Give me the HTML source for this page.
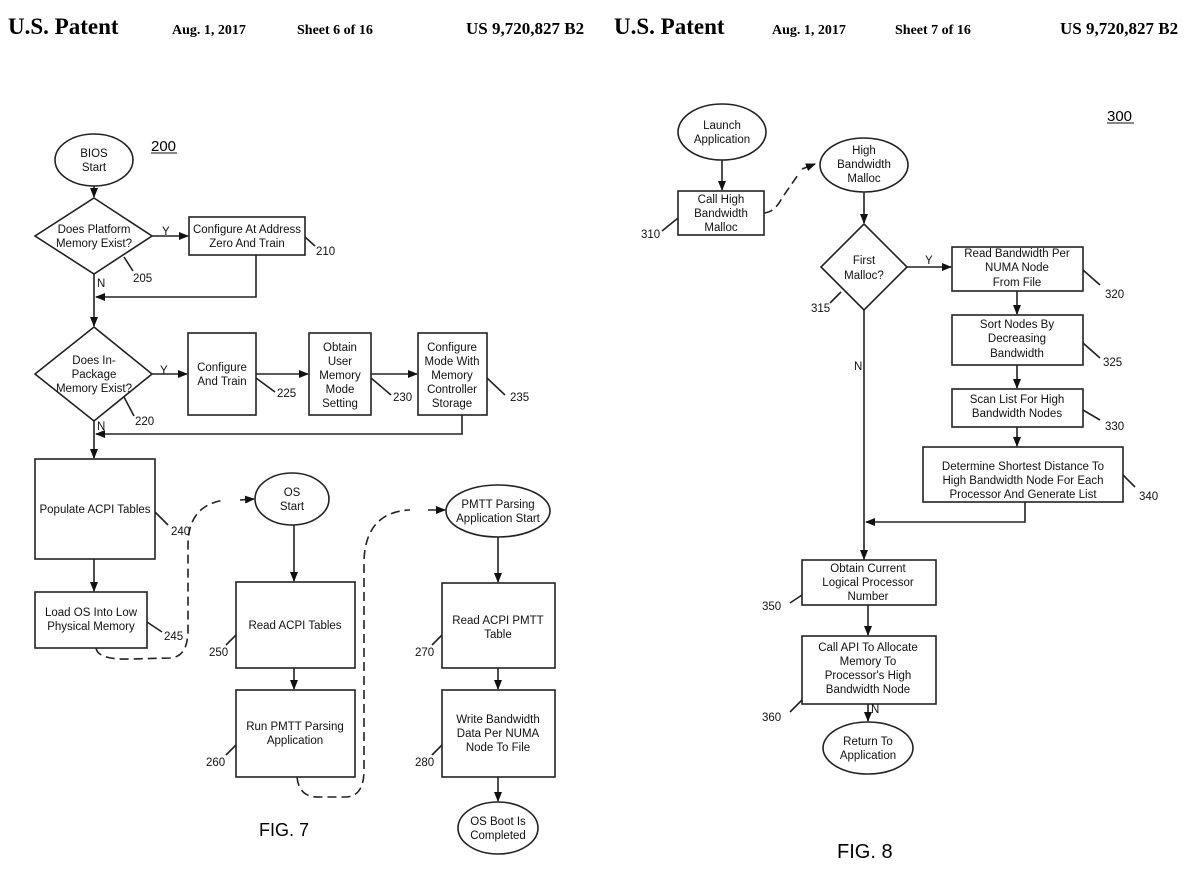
<!DOCTYPE html>
<html><head><meta charset="utf-8"><style>
html,body{margin:0;padding:0;background:#fff;}
svg{display:block;}
.t{font-family:"Liberation Sans",Arial,sans-serif;font-size:11.5px;fill:#111;text-anchor:middle;}
.l{font-family:"Liberation Sans",Arial,sans-serif;font-size:11.5px;fill:#111;}
.h{font-family:"Liberation Serif",serif;font-weight:bold;fill:#000;}
</style></head><body>
<svg width="1200" height="878" viewBox="0 0 1200 878" xmlns="http://www.w3.org/2000/svg">
<defs><marker id="a" markerWidth="10" markerHeight="8" refX="9" refY="4" orient="auto" markerUnits="userSpaceOnUse"><path d="M0,0 L10,4 L0,8 z" fill="#111"/></marker></defs>
<g class="h">
<text x="8" y="34" font-size="23">U.S. Patent</text>
<text x="172" y="34" font-size="14">Aug. 1, 2017</text>
<text x="297" y="34" font-size="14">Sheet 6 of 16</text>
<text x="466" y="34" font-size="17">US 9,720,827 B2</text>
<text x="614" y="34" font-size="23">U.S. Patent</text>
<text x="772" y="34" font-size="14">Aug. 1, 2017</text>
<text x="895" y="34" font-size="14">Sheet 7 of 16</text>
<text x="1060" y="34" font-size="17">US 9,720,827 B2</text>
</g>
<g stroke="#222" stroke-width="1.6" fill="none">
<!-- FIG 7 -->
<ellipse cx="94" cy="160" rx="39" ry="26"/>
<line x1="94" y1="186" x2="94" y2="197" marker-end="url(#a)"/>
<polygon points="94,198 152,236 94,274 35,236"/>
<line x1="152" y1="236" x2="188" y2="236" marker-end="url(#a)"/>
<rect x="189" y="217" width="116" height="38"/>
<polyline points="256,255 256,297 96,297" marker-end="url(#a)"/>
<line x1="94" y1="274" x2="94" y2="326" marker-end="url(#a)"/>
<polygon points="94,327 152,374 94,421 35,374"/>
<line x1="152" y1="374" x2="187" y2="374" marker-end="url(#a)"/>
<rect x="188" y="333" width="68" height="82"/>
<line x1="256" y1="374" x2="308" y2="374" marker-end="url(#a)"/>
<rect x="309" y="333" width="62" height="82"/>
<line x1="371" y1="374" x2="417" y2="374" marker-end="url(#a)"/>
<rect x="418" y="333" width="69" height="82"/>
<polyline points="462,415 462,434 96,434" marker-end="url(#a)"/>
<line x1="94" y1="421" x2="94" y2="458" marker-end="url(#a)"/>
<rect x="35" y="459" width="120" height="100"/>
<line x1="94" y1="559" x2="94" y2="591" marker-end="url(#a)"/>
<rect x="35" y="592" width="112" height="56"/>
<path d="M96,648 Q98,660 130,659 L170,658 Q188,657 188,630 L188,545 Q188,505 225,500" stroke-dasharray="9,5"/>
<line x1="240" y1="500" x2="254" y2="499" marker-end="url(#a)"/>
<ellipse cx="292" cy="499" rx="37" ry="26"/>
<line x1="294" y1="525" x2="294" y2="581" marker-end="url(#a)"/>
<rect x="236" y="582" width="119" height="86"/>
<line x1="294" y1="668" x2="294" y2="689" marker-end="url(#a)"/>
<rect x="236" y="690" width="119" height="87"/>
<path d="M297,777 Q299,798 320,797 L345,797 Q364,797 364,770 L364,560 Q366,512 410,510" stroke-dasharray="9,5"/>
<line x1="428" y1="510" x2="445" y2="510" marker-end="url(#a)"/>
<ellipse cx="498" cy="511" rx="52" ry="26"/>
<line x1="498" y1="537" x2="498" y2="582" marker-end="url(#a)"/>
<rect x="442" y="583" width="113" height="85"/>
<line x1="498" y1="668" x2="498" y2="689" marker-end="url(#a)"/>
<rect x="442" y="690" width="113" height="87"/>
<line x1="498" y1="777" x2="498" y2="801" marker-end="url(#a)"/>
<ellipse cx="498" cy="828" rx="40" ry="26"/>
<line x1="305" y1="237" x2="315" y2="246"/>
<line x1="124" y1="257" x2="133" y2="271"/>
<line x1="256" y1="378" x2="275" y2="392"/>
<line x1="371" y1="378" x2="391" y2="395"/>
<line x1="487" y1="378" x2="505" y2="395"/>
<line x1="124" y1="397" x2="134" y2="416"/>
<line x1="155" y1="512" x2="168" y2="525"/>
<line x1="147" y1="622" x2="162" y2="632"/>
<line x1="236" y1="635" x2="226" y2="645"/>
<line x1="236" y1="745" x2="226" y2="755"/>
<line x1="442" y1="635" x2="432" y2="645"/>
<line x1="442" y1="745" x2="432" y2="755"/>
<!-- FIG 8 -->
<ellipse cx="722" cy="132" rx="44" ry="28"/>
<line x1="722" y1="160" x2="722" y2="190" marker-end="url(#a)"/>
<rect x="678" y="191" width="86" height="44"/>
<path d="M764,213 Q775,212 782,198 L800,172" stroke-dasharray="9,5"/>
<line x1="802" y1="169" x2="815" y2="164" marker-end="url(#a)"/>
<ellipse cx="864" cy="165" rx="44" ry="27"/>
<line x1="864" y1="192" x2="864" y2="223" marker-end="url(#a)"/>
<polygon points="864,224 907,267 864,310 821,267"/>
<line x1="907" y1="267" x2="951" y2="267" marker-end="url(#a)"/>
<rect x="952" y="247" width="131" height="44"/>
<line x1="1017" y1="291" x2="1017" y2="314" marker-end="url(#a)"/>
<rect x="952" y="315" width="131" height="50"/>
<line x1="1017" y1="365" x2="1017" y2="388" marker-end="url(#a)"/>
<rect x="952" y="389" width="131" height="38"/>
<line x1="1017" y1="427" x2="1017" y2="446" marker-end="url(#a)"/>
<rect x="923" y="447" width="200" height="55"/>
<polyline points="1025,502 1025,522 866,522" marker-end="url(#a)"/>
<line x1="864" y1="310" x2="864" y2="559" marker-end="url(#a)"/>
<rect x="802" y="560" width="134" height="45"/>
<line x1="868" y1="605" x2="868" y2="635" marker-end="url(#a)"/>
<rect x="802" y="636" width="134" height="68"/>
<line x1="868" y1="704" x2="868" y2="721" marker-end="url(#a)"/>
<ellipse cx="868" cy="748" rx="45" ry="26"/>
<line x1="678" y1="218" x2="662" y2="231"/>
<line x1="841" y1="292" x2="830" y2="303"/>
<line x1="1083" y1="270" x2="1100" y2="285"/>
<line x1="1083" y1="343" x2="1100" y2="358"/>
<line x1="1083" y1="410" x2="1100" y2="420"/>
<line x1="1123" y1="475" x2="1135" y2="487"/>
<line x1="802" y1="595" x2="790" y2="603"/>
<line x1="802" y1="700" x2="790" y2="712"/>
</g>
<g class="t">
<text x="94" y="157">BIOS</text><text x="94" y="171">Start</text>
<text x="94" y="233">Does Platform</text><text x="94" y="247">Memory Exist?</text>
<text x="247" y="233">Configure At Address</text><text x="247" y="247">Zero And Train</text>
<text x="94" y="364">Does In-</text><text x="94" y="378">Package</text><text x="94" y="392">Memory Exist?</text>
<text x="222" y="371">Configure</text><text x="222" y="385">And Train</text>
<text x="340" y="351">Obtain</text><text x="340" y="365">User</text><text x="340" y="379">Memory</text><text x="340" y="393">Mode</text><text x="340" y="407">Setting</text>
<text x="452" y="351">Configure</text><text x="452" y="365">Mode With</text><text x="452" y="379">Memory</text><text x="452" y="393">Controller</text><text x="452" y="407">Storage</text>
<text x="95" y="513">Populate ACPI Tables</text>
<text x="91" y="616">Load OS Into Low</text><text x="91" y="630">Physical Memory</text>
<text x="292" y="496">OS</text><text x="292" y="510">Start</text>
<text x="295" y="629">Read ACPI Tables</text>
<text x="295" y="730">Run PMTT Parsing</text><text x="295" y="744">Application</text>
<text x="498" y="508">PMTT Parsing</text><text x="498" y="522">Application Start</text>
<text x="498" y="624">Read ACPI PMTT</text><text x="498" y="638">Table</text>
<text x="498" y="723">Write Bandwidth</text><text x="498" y="737">Data Per NUMA</text><text x="498" y="751">Node To File</text>
<text x="498" y="825">OS Boot Is</text><text x="498" y="839">Completed</text>
<text x="722" y="129">Launch</text><text x="722" y="143">Application</text>
<text x="721" y="203">Call High</text><text x="721" y="217">Bandwidth</text><text x="721" y="231">Malloc</text>
<text x="864" y="154">High</text><text x="864" y="168">Bandwidth</text><text x="864" y="182">Malloc</text>
<text x="864" y="264">First</text><text x="864" y="279">Malloc?</text>
<text x="1017" y="257">Read Bandwidth Per</text><text x="1017" y="271">NUMA Node</text><text x="1017" y="286">From File</text>
<text x="1017" y="328">Sort Nodes By</text><text x="1017" y="342">Decreasing</text><text x="1017" y="357">Bandwidth</text>
<text x="1017" y="403">Scan List For High</text><text x="1017" y="417">Bandwidth Nodes</text>
<text x="1023" y="470">Determine Shortest Distance To</text><text x="1023" y="484">High Bandwidth Node For Each</text><text x="1023" y="498">Processor And Generate List</text>
<text x="868" y="572">Obtain Current</text><text x="868" y="586">Logical Processor</text><text x="868" y="600">Number</text>
<text x="868" y="651">Call API To Allocate</text><text x="868" y="665">Memory To</text><text x="868" y="679">Processor's High</text><text x="868" y="693">Bandwidth Node</text>
<text x="868" y="745">Return To</text><text x="868" y="759">Application</text>
</g>
<g class="l">
<text x="162" y="235">Y</text><text x="97" y="287">N</text>
<text x="316" y="255">210</text><text x="133" y="282">205</text>
<text x="160" y="374">Y</text><text x="97" y="430">N</text>
<text x="277" y="397">225</text><text x="393" y="401">230</text><text x="510" y="401">235</text>
<text x="135" y="425">220</text><text x="171" y="535">240</text><text x="164" y="640">245</text>
<text x="209" y="656">250</text><text x="206" y="766">260</text>
<text x="415" y="656">270</text><text x="415" y="766">280</text>
<text x="925" y="264">Y</text><text x="854" y="370">N</text><text x="871" y="713">N</text>
<text x="641" y="238">310</text><text x="811" y="312">315</text>
<text x="1105" y="298">320</text><text x="1103" y="366">325</text><text x="1105" y="430">330</text><text x="1139" y="500">340</text>
<text x="762" y="610">350</text><text x="762" y="721">360</text>
</g>
<text x="151" y="151" font-family="Liberation Sans,sans-serif" font-size="15">200</text>
<line x1="151" y1="153" x2="177" y2="153" stroke="#111" stroke-width="1"/>
<text x="1107" y="121" font-family="Liberation Sans,sans-serif" font-size="15">300</text>
<line x1="1107" y1="123" x2="1134" y2="123" stroke="#111" stroke-width="1"/>
<text x="259" y="836" font-family="Liberation Sans,sans-serif" font-size="18">FIG. 7</text>
<text x="837" y="858" font-family="Liberation Sans,sans-serif" font-size="20">FIG. 8</text>
</svg>
</body></html>
